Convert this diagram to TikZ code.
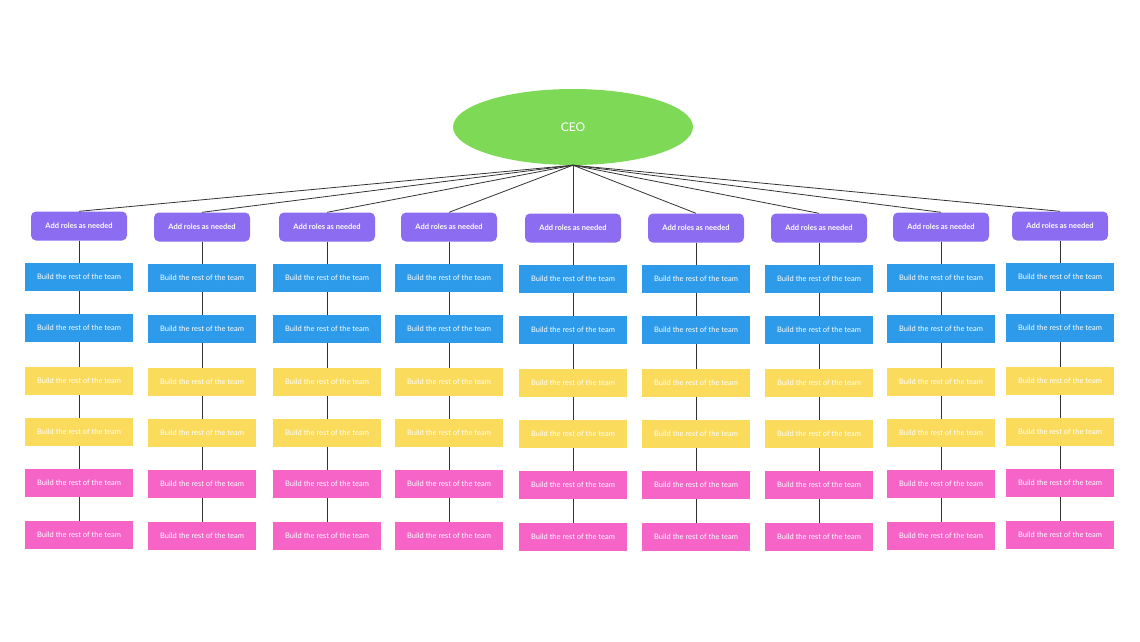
\documentclass[tikz,border=0pt]{standalone}
\usepackage{fontspec}
\setmainfont{Lato}
\usetikzlibrary{shapes.geometric}
\definecolor{ceogreen}{HTML}{7ED957}
\definecolor{rolepurple}{HTML}{8C6CF1}
\definecolor{teamblue}{HTML}{2E9BEA}
\definecolor{teamyellow}{HTML}{FADB5C}
\definecolor{teampink}{HTML}{F764C8}
\begin{document}
\begin{tikzpicture}[x=1pt,y=-1pt,
        every node/.style={inner sep=0pt,text=white},
        ceo/.style={ellipse,fill=ceogreen,minimum width=240pt,minimum height=76pt,font=\fontsize{12}{14}\selectfont},
        role/.style={rectangle,rounded corners=5pt,fill=rolepurple,minimum width=96pt,minimum height=29pt,font=\fontsize{7.5}{9}\selectfont\bfseries},
        team/.style={rectangle,minimum width=108pt,minimum height=28pt,font=\fontsize{7.5}{9}\selectfont},
        link/.style={draw=black!80,line width=0.8pt}]

    \useasboundingbox (0,0) rectangle (1140,641);

    \node[ceo] (ceo) at (573,127) {CEO};

    \foreach \x/\d [count=\i] in {79/0,202/1,327/1,449/1,573/2,696/2,819/2,941/1,1060/0}
    {
        \node[role] (c\i) at (\x,226+\d) {Add roles as needed};
        \draw[link] (ceo.south) -- (c\i.north);
        \foreach \y/\col [count=\j] in {277/teamblue,328/teamblue,381/teamyellow,432/teamyellow,483/teampink,535/teampink}
            \node[team,fill=\col] (r\i-\j) at (\x,\y+\d) {Build the rest of the team};
        \draw[link] (c\i) -- (r\i-1);
        \foreach \j [evaluate=\j as \k using int(\j+1)] in {1,...,5}
            \draw[link] (r\i-\j) -- (r\i-\k);
    }
\end{tikzpicture}
\end{document}
